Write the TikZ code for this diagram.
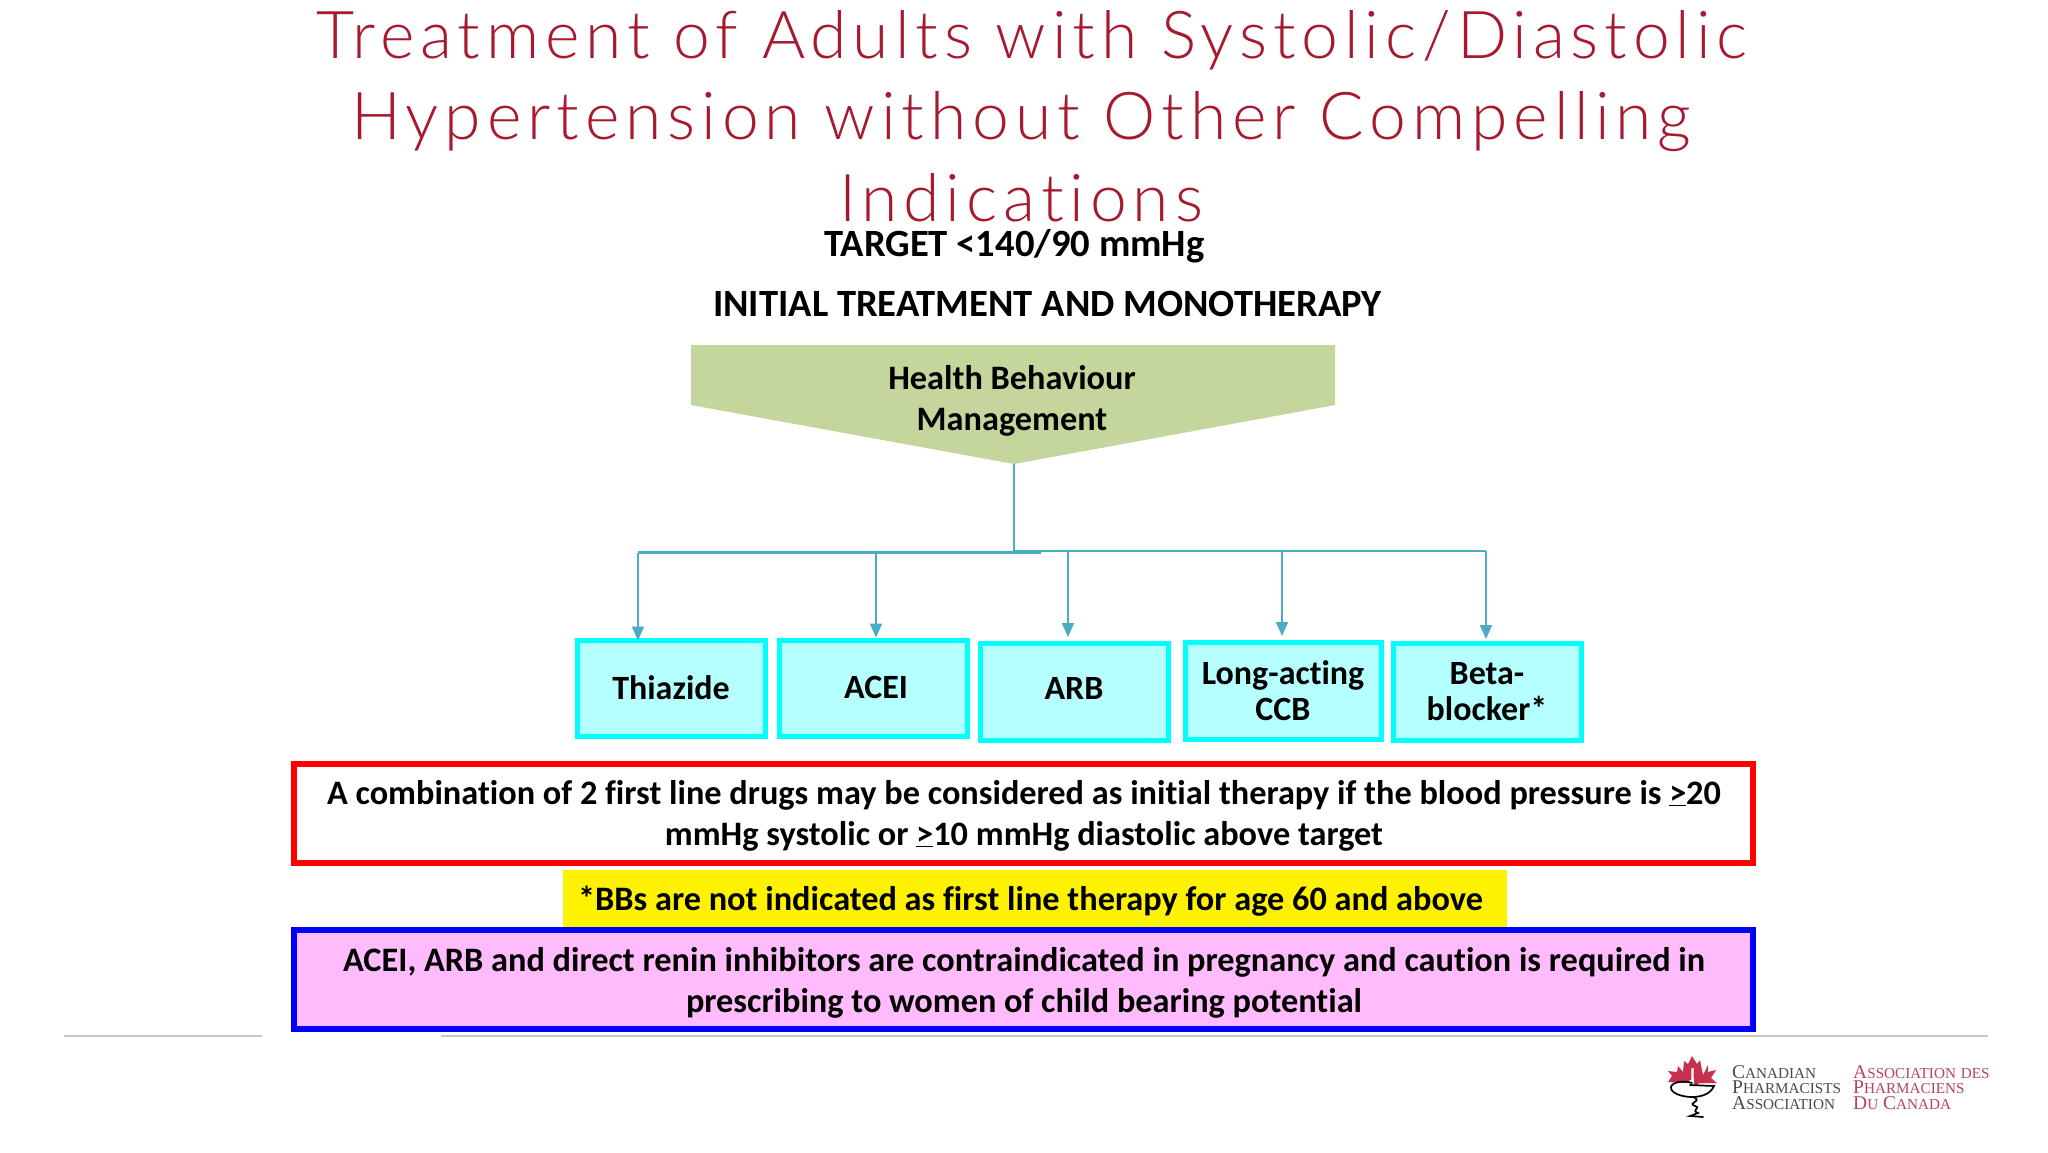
\documentclass[tikz,border=0pt]{standalone}
\usepackage{fontspec}
\setmainfont[Ligatures=NoCommon]{Carlito}
\newfontfamily\logofont{Liberation Serif}
\usetikzlibrary{arrows.meta}
\newfontfamily\titlefont[LetterSpace=8.9,Ligatures=NoCommon]{Lato Light}
\definecolor{crim}{HTML}{A6192E}
\definecolor{sage}{HTML}{C4D69C}
\definecolor{teal}{HTML}{4BACC6}
\definecolor{aqua}{HTML}{00FFFF}
\definecolor{aquafill}{HTML}{B6FFFF}
\definecolor{pinkfill}{HTML}{FFBBFB}
\definecolor{rulegrey}{HTML}{C8C8C8}
\definecolor{logogrey}{HTML}{4A4A4A}
\definecolor{logored}{HTML}{B5455F}
\definecolor{leafred}{HTML}{C8304F}
\newcommand{\lc}[2]{{\fontsize{19.5}{15.7}\selectfont #1}{\fontsize{15.2}{15.7}\selectfont #2}}
\tikzset{
  x=1pt,y=-1pt,
  bodytext/.style={font=\fontsize{34.3}{41}\selectfont\bfseries,text=black,align=center,inner sep=0pt},
  headtext/.style={font=\fontsize{38.6}{46}\selectfont\bfseries,text=black,align=center,inner sep=0pt},
  drug/.style={draw=aqua,fill=aquafill,line width=5pt,inner sep=0pt,outer sep=0pt,align=center,
     font=\fontsize{34}{36}\selectfont\bfseries,minimum height=96pt,minimum width=188pt},
  note/.style={line width=6.5pt,inner sep=0pt,outer sep=0pt,minimum width=1459pt,minimum height=99pt},
  conn/.style={draw=teal,line width=2pt},
  arr/.style={conn,-{Triangle[length=14pt,width=12pt]}},
  logotext/.style={font=\logofont\fontsize{19.5}{15.7}\selectfont,align=left,inner sep=0pt,anchor=north west},
}
\begin{document}
\begin{tikzpicture}
\useasboundingbox (0,0) rectangle (2048,1152);
\fill[white] (0,0) rectangle (2048,1152);
% title
\node (title) at (1021,116) [inner sep=0pt,align=center,text=crim,font=\fontsize{66}{81.5}\selectfont\titlefont]
 {\hspace*{22pt}Treatment of Adults with Systolic/Diastolic\\Hypertension without Other Compelling\\Indications};
\node[headtext] (target) at (1014.5,246) {TARGET <140/90 mmHg};
\node[headtext] (initial) at (1047.5,304) {INITIAL TREATMENT AND MONOTHERAPY};
% behaviour pentagon
\fill[sage] (691,345) -- (1335,345) -- (1335,405) -- (1014,464) -- (691,405) -- cycle;
\node[bodytext] (hbm) at (1012,401) {Health Behaviour\\Management};
\coordinate (tip) at (1014,464);
\coordinate (busjoin) at (1014,551);
\coordinate (busL) at (1041,552.5);
\coordinate (a) at (638,552.5);
\coordinate (b) at (876,552.5);
\coordinate (c) at (1068,551);
\coordinate (d) at (1282,551);
\coordinate (e) at (1486,551);
% drug boxes
\node[drug,text depth=2pt] (thiazide) at (671,688.5) {Thiazide};
\node[drug,text depth=2pt] (acei) at (873.5,688.5) {\hspace*{5pt}ACEI};
\node[drug,minimum height=97pt,text depth=7pt] (arb) at (1074,691.5) {ARB};
\node[drug,minimum height=97pt,minimum width=196pt] (ccb) at (1283,690.5) {Long-acting\\CCB};
\node[drug,minimum height=97pt] (beta) at (1487,691.5) {Beta-\\blocker*};
% connectors
\draw[conn] (tip) -- (busjoin);
\draw[conn,line width=2.6pt] (a) -- (busL);
\draw[conn] (busjoin) -- (e);
\draw[arr] (a) -- (a |- thiazide.north);
\draw[arr,shorten >=3pt] (b) -- (b |- acei.north);
\draw[arr,shorten >=6pt] (c) -- (c |- arb.north);
\draw[arr,shorten >=6pt] (d) -- (d |- ccb.north);
\draw[arr,shorten >=4pt] (e) -- (e |- beta.north);
% notes
\node[note,draw=red,fill=white] (combo) at (1023.5,813.5) {};
\node[bodytext] (combotext) at (1024,815.5)
 {A combination of 2 first line drugs may be considered as initial therapy if the blood pressure is \underline{>}20\\mmHg systolic or \underline{>}10 mmHg diastolic above target};
\node[fill=yellow,minimum width=944pt,minimum height=57pt,inner sep=0pt] (bb) at (1035,898.5) {};
\node[bodytext] (bbtext) at (1030.5,901.5)
 {*BBs are not indicated as first line therapy for age 60 and above};
\node[note,draw=blue,fill=pinkfill] (preg) at (1023.5,979.5) {};
\node[bodytext] (pregtext) at (1024,982.5)
 {ACEI, ARB and direct renin inhibitors are contraindicated in pregnancy and caution is required in\\prescribing to women of child bearing potential};
% rules
\draw[rulegrey,line width=1.5pt] (64,1036) -- (262,1036);
\draw[rulegrey,line width=1.5pt] (441,1036) -- (1988,1036);
% logo
\fill[leafred] (1692,1056) -- (1697,1064) -- (1700,1060) -- (1703,1075) -- (1708,1065) -- (1708,1072) -- (1716,1070) -- (1711,1078) -- (1717,1083) -- (1700,1083) -- (1694,1086) -- (1694,1080) -- (1690,1080) -- (1685,1083) -- (1668,1082) -- (1672,1076) -- (1668,1071) -- (1677,1072) -- (1678,1066) -- (1683,1072) -- (1684,1061) -- (1688,1064) -- cycle;
\fill[white] (1691.5,1068) -- (1693.5,1068) -- (1694,1090) -- (1691,1090) -- cycle;
\draw[black,line width=1.7pt,line cap=round] (1692,1083) .. controls (1684,1080) and (1672,1082) .. (1671,1087) .. controls (1670,1093) and (1682,1097) .. (1692,1097) .. controls (1703,1097) and (1711,1093) .. (1714,1086) -- (1690,1085);
\draw[black,line width=1.7pt,line cap=round] (1693,1097) .. controls (1704,1101) and (1686,1103) .. (1695,1106) .. controls (1702,1108) and (1690,1110) .. (1698,1113) -- (1690,1116) -- (1703,1117);
\node[logotext,text=logogrey] (logoen) at (1732,1065)
 {\lc{C}{ANADIAN}\\\lc{P}{HARMACISTS}\\\lc{A}{SSOCIATION}};
\node[logotext,text=logored] (logofr) at (1853,1065)
 {\lc{A}{SSOCIATION} {\fontsize{15.2}{15.7}\selectfont DES}\\\lc{P}{HARMACIENS}\\\lc{D}{U} \lc{C}{ANADA}};
\end{tikzpicture}
\end{document}
